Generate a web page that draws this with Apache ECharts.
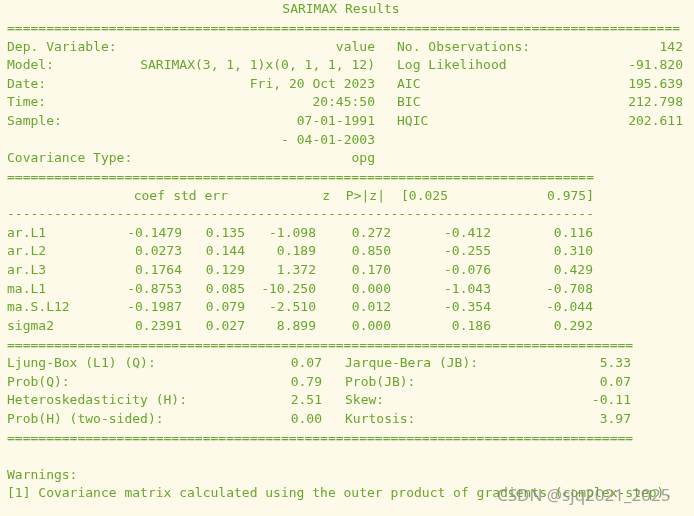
<!DOCTYPE html>
<html>
<head>
<meta charset="utf-8">
<script src="https://cdn.jsdelivr.net/npm/echarts@6/dist/echarts.min.js"></script>
<style>html,body{margin:0;background:#fefaea}#main{width:694px;height:516px}</style>
</head>
<body>
<div id="main"></div>
<script>
// 表头信息
const headLeftLabels = ['Dep. Variable:', 'Model:', 'Date:', 'Time:', 'Sample:', '', 'Covariance Type:'];
const headLeftValues = ['value', 'SARIMAX(3, 1, 1)x(0, 1, 1, 12)', 'Fri, 20 Oct 2023', '20:45:50', '07-01-1991', '- 04-01-2003', 'opg'];
const headRightLabels = ['No. Observations:', 'Log Likelihood', 'AIC', 'BIC', 'HQIC'];
const headRightValues = ['142', '-91.820', '195.639', '212.798', '202.611'];
// 参数表
const paramCols = ['coef', 'std err', 'z', 'P>|z|', '[0.025', '0.975]'];
const paramNames = ['ar.L1', 'ar.L2', 'ar.L3', 'ma.L1', 'ma.S.L12', 'sigma2'];
const coef = ['-0.1479', '0.0273', '0.1764', '-0.8753', '-0.1987', '0.2391'];
const stdErr = ['0.135', '0.144', '0.129', '0.085', '0.079', '0.027'];
const zVal = ['-1.098', '0.189', '1.372', '-10.250', '-2.510', '8.899'];
const pVal = ['0.272', '0.850', '0.170', '0.000', '0.012', '0.000'];
const ciLow = ['-0.412', '-0.255', '-0.076', '-1.043', '-0.354', '0.186'];
const ciHigh = ['0.116', '0.310', '0.429', '-0.708', '-0.044', '0.292'];
// 诊断
const diagLeftLabels = ['Ljung-Box (L1) (Q):', 'Prob(Q):', 'Heteroskedasticity (H):', 'Prob(H) (two-sided):'];
const diagLeftValues = ['0.07', '0.79', '2.51', '0.00'];
const diagRightLabels = ['Jarque-Bera (JB):', 'Prob(JB):', 'Skew:', 'Kurtosis:'];
const diagRightValues = ['5.33', '0.07', '-0.11', '3.97'];
const warnings = ['Warnings:', '[1] Covariance matrix calculated using the outer product of gradients (complex-step).'];

const FONT = '13px "DejaVu Sans Mono"';
const COLOR = '#66a72c';
const ctx = document.createElement('canvas').getContext('2d');
ctx.font = FONT;
function rowY(i){ return 10 + i * 18.62; }
var els = [];
function txt(s, x, row, align){
    els.push({type: 'text', x: x, y: rowY(row), style: {text: s, font: FONT, fill: COLOR, align: align || 'left', verticalAlign: 'middle'}});
}
function rule(ch, x1, x2, row){
    var n = Math.round((x2 - x1) / ctx.measureText(ch).width);
    txt(ch.repeat(n), x1, row);
}

txt('SARIMAX Results', 341, 0, 'center');
rule('=', 7, 684, 1);
for(var i=0;i<headLeftLabels.length;i++){
    txt(headLeftLabels[i], 7, 2 + i);
    txt(headLeftValues[i], 375, 2 + i, 'right');
}
for(var i=0;i<headRightLabels.length;i++){
    txt(headRightLabels[i], 397, 2 + i);
    txt(headRightValues[i], 683, 2 + i, 'right');
}
rule('=', 7, 595, 9);
var headX = [165, 228, 330, 385, 448, 594];
var valX = [182, 245, 316, 391, 491, 593];
for(var j=0;j<paramCols.length;j++) txt(paramCols[j], headX[j], 10, 'right');
rule('-', 7, 595, 11);
var cols = [coef, stdErr, zVal, pVal, ciLow, ciHigh];
for(var i=0;i<paramNames.length;i++){
    txt(paramNames[i], 7, 12 + i);
    for(var j=0;j<cols.length;j++) txt(cols[j][i], valX[j], 12 + i, 'right');
}
rule('=', 7, 633, 18);
for(var i=0;i<diagLeftLabels.length;i++){
    txt(diagLeftLabels[i], 7, 19 + i);
    txt(diagLeftValues[i], 322, 19 + i, 'right');
    txt(diagRightLabels[i], 345, 19 + i);
    txt(diagRightValues[i], 631, 19 + i, 'right');
}
rule('=', 7, 633, 23);
txt(warnings[0], 7, 25);
txt(warnings[1], 7, 26);
els.push({type: 'text', x: 497, y: 496, z: 10, style: {text: 'CSDN @sjq2021_2025', font: '17px "Noto Sans"', fill: 'rgba(130,130,130,0.75)', verticalAlign: 'middle'}});

var myChart = echarts.init(document.getElementById('main'));
myChart.setOption({backgroundColor: '#fefaea', graphic: {elements: els}});
</script>
</body>
</html>
